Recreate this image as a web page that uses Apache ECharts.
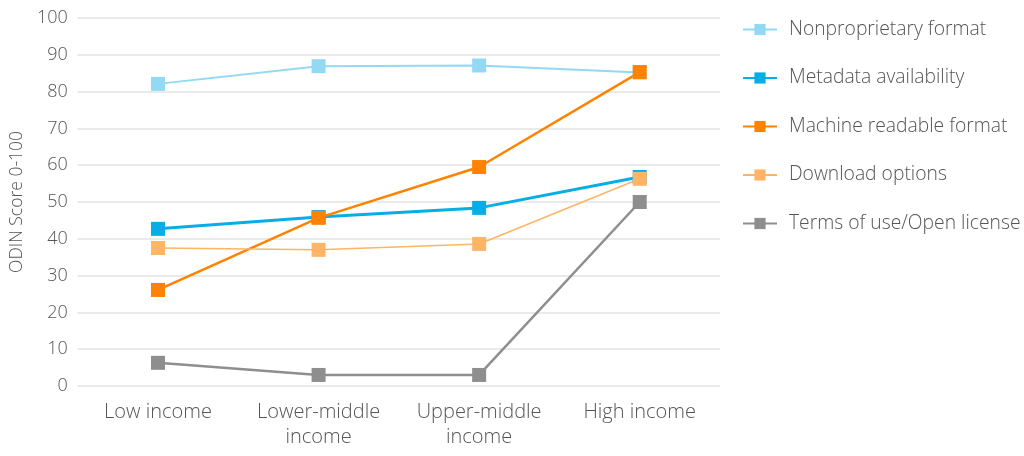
<!DOCTYPE html>
<html><head><meta charset="utf-8">
<script src="https://cdn.jsdelivr.net/npm/echarts@6/dist/echarts.min.js"></script>
<style>html,body{margin:0;padding:0;background:#fff}#c{width:1024px;height:456px}</style>
</head><body><div id="c"></div>
<script>
const categories = ['Low income', 'Lower-middle\nincome', 'Upper-middle\nincome', 'High income'];
const nonproprietary = [82.1, 86.9, 87.1, 85.2];
const metadata = [42.7, 45.9, 48.4, 56.8];
const machineReadable = [26.1, 45.7, 59.5, 85.3];
const download = [37.5, 37.0, 38.6, 56.3];
const terms = [6.3, 3.0, 3.0, 50.0];
const yTicks = [0, 10, 20, 30, 40, 50, 60, 70, 80, 90, 100];

const font = '"Open Sans", sans-serif';
const txt = '#555555';
const fw = 300;
function s(name, data, color, width) {
  return { name, type: 'line', data, symbol: 'rect', symbolSize: 14,
    lineStyle: { color, width }, itemStyle: { color }, z: 2 };
}
const chart = echarts.init(document.getElementById('c'));
chart.setOption({
  animation: false,
  textStyle: { fontFamily: font },
  grid: { left: 77, right: 304, top: 18, bottom: 70 },
  legend: {
    orient: 'vertical', left: 737, top: 15, itemGap: 29.5,
    itemWidth: 34, itemHeight: 14,
    textStyle: { fontFamily: font, fontWeight: fw, fontSize: 19.3, color: txt, padding: [0, 0, 0, 7] },
    data: ['Nonproprietary format', 'Metadata availability', 'Machine readable format', 'Download options', 'Terms of use/Open license']
  },
  xAxis: {
    type: 'category', data: categories, boundaryGap: true,
    axisLine: { show: false }, axisTick: { show: false },
    axisLabel: { fontFamily: font, fontWeight: fw, fontSize: 20, color: txt, margin: 14, lineHeight: 25, interval: 0 }
  },
  yAxis: {
    type: 'value', min: 0, max: 100, interval: 10,
    name: 'ODIN Score 0-100', nameLocation: 'middle', nameGap: 48, nameRotate: 90,
    nameTextStyle: { fontFamily: font, fontWeight: fw, fontSize: 17.5, color: txt },
    axisLine: { show: false }, axisTick: { show: false },
    axisLabel: { fontFamily: font, fontWeight: fw, fontSize: 18, color: txt, margin: 10,
      formatter: v => yTicks.includes(v) ? String(v) : '' },
    splitLine: { lineStyle: { color: '#e3e3e3', width: 1.5 } }
  },
  series: [
    s('Nonproprietary format', nonproprietary, '#93d9f4', 2),
    s('Metadata availability', metadata, '#07ade6', 3),
    s('Machine readable format', machineReadable, '#ff8200', 2.5),
    s('Download options', download, '#ffb466', 1.5),
    s('Terms of use/Open license', terms, '#8e8e8e', 2.5)
  ]
});
</script></body></html>
